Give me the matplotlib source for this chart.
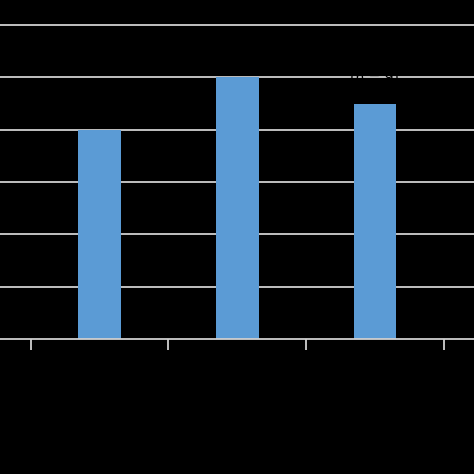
import matplotlib
matplotlib.use('Agg')
from matplotlib import pyplot as plt
import numpy as np

categories = ['A', 'B', 'C']
values = [4.0, 5.0, 4.5]
grid_levels = [0, 1, 2, 3, 4, 5, 6]
note_text = '(n = 9)'

bar_color = '#5b9bd5'
line_color = '#d0d0d0'

fig = plt.figure(figsize=(4.74, 4.74), dpi=100, facecolor='black')
# axes area runs off the top and sides of the picture
ax = fig.add_axes([0, 135 / 474, 1, 339 / 474])
ax.set_facecolor('black')

x = np.arange(len(categories))
ax.bar(x, values, width=0.31, color=bar_color, zorder=3)

ax.set_xlim(-0.7226, 2.72)
ax.set_ylim(0, 6.48)

for g in grid_levels[1:]:
    ax.axhline(g, color=line_color, linewidth=1.3, zorder=1)

# black label over the third bar, only visible where it covers the gridline
ax.text(x[2], 5.0, note_text, color='black', fontsize=10, ha='center', va='center', zorder=4)

ax.set_xticks([-0.5, 0.5, 1.5, 2.5])
ax.set_xticklabels(['', '', '', ''])
ax.set_yticks([])
ax.tick_params(axis='x', colors=line_color, length=8, width=1.3, direction='out')
for side in ['top', 'right', 'left']:
    ax.spines[side].set_visible(False)
ax.spines['bottom'].set_color(line_color)
ax.spines['bottom'].set_linewidth(1.3)
ax.spines['bottom'].set_zorder(5)

fig.savefig('out.png', dpi=100, facecolor='black')
plt.close(fig)
